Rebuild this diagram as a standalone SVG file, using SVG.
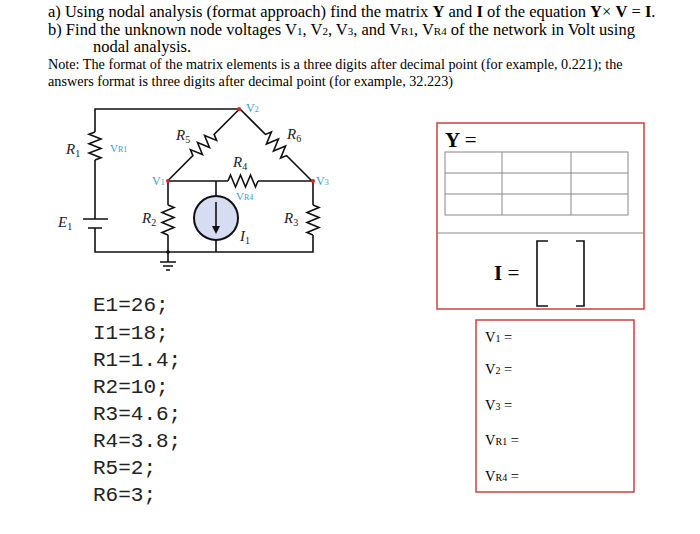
<svg xmlns="http://www.w3.org/2000/svg" width="700" height="534" viewBox="0 0 700 534">
<style>
.t{font-family:"Liberation Serif",serif;fill:#000}
.w{fill:none;stroke:#111;stroke-width:1.6}
.b{fill:#3a9bd5;font-family:"Liberation Serif",serif}
.l{font-family:"Liberation Serif",serif;font-style:italic;font-size:15px;fill:#222}
.m{font-family:"Liberation Mono",monospace;font-size:21px;fill:#222}
.g{fill:none;stroke:#888;stroke-width:1}
.r{fill:none;stroke:#d04040;stroke-width:1.5}
</style>
<rect width="700" height="534" fill="#fff"/>
<g id="text" class="t" font-size="16.5">
<text x="48" y="17">a)  Using nodal analysis (format approach) find the matrix <tspan font-weight="bold">Y</tspan> and <tspan font-weight="bold">I</tspan> of the equation <tspan font-weight="bold">Y</tspan>× <tspan font-weight="bold">V</tspan> = <tspan font-weight="bold">I</tspan>.</text>
<text x="48" y="35">b)  Find the unknown node voltages V<tspan font-size="11">1</tspan>, V<tspan font-size="11">2</tspan>, V<tspan font-size="11">3</tspan>,  and V<tspan font-size="11">R1</tspan>, V<tspan font-size="11">R4</tspan> of the network in Volt using</text>
<text x="93" y="52">nodal analysis.</text>
<text x="48" y="69" font-size="14.2">Note:  The format of the matrix elements is a three digits after decimal point (for example, 0.221); the</text>
<text x="48" y="86" font-size="14.2">answers format is three digits after decimal point (for example, 32.223)</text>
</g>
<g id="connectors">
<path class="w" d="M95 132V109H239"/>
<path class="w" d="M95 160V219M95 228V252H313V235M168 181H228M258 181H313M313 181V205M168 181V205M168 235V252M216 181V196M216 240V252M168 252V262"/>
<path class="w" d="M95 132l-6 2.3 12 4.7-12 4.7 12 4.7-12 4.7 12 4.7-6 2.3"/>
<path class="w" d="M168 205l6 2.5-12 5 12 5-12 5 12 5-12 5 6 2.5"/>
<path class="w" d="M313 205l6 2.5-12 5 12 5-12 5 12 5-12 5 6 2.5"/>
<path class="w" d="M228 181l2.5-6 5 12 5-12 5 12 5-12 5 12 2.5-6"/>
<path class="w" transform="translate(203.5 145) rotate(-45)" d="M-50.5 0H-15l2.5-6 5 12 5-12 5 12 5-12 5 12 2.5-6H50.5"/>
<path class="w" transform="translate(276 145) rotate(45)" d="M-51.6 0H-15l2.5-6 5 12 5-12 5 12 5-12 5 12 2.5-6H51.6"/>
<path class="w" d="M83 219H108M88 228H102" stroke-width="2.5"/>
<path class="w" d="M160 262H176M163 266H173M166 270H170" stroke-width="2"/>
<circle cx="216" cy="218" r="22" fill="#d6dcf2" stroke="#111" stroke-width="2"/>
<path class="w" d="M216 202V232"/><path d="M212 226L216 234L220 226Z" fill="#111"/>
<g fill="#e02020"><circle cx="239" cy="109" r="2"/><circle cx="168" cy="181" r="2"/><circle cx="313" cy="181" r="2"/></g>
<circle cx="168" cy="252" r="1.8" fill="#111"/>
</g>
<g id="labels">
<text class="b" x="246" y="112" font-size="12">V<tspan font-size="8">2</tspan></text>
<text class="b" x="152" y="185" font-size="12">V<tspan font-size="8">1</tspan></text>
<text class="b" x="316" y="185" font-size="12">V<tspan font-size="8">3</tspan></text>
<text class="b" x="110" y="152" font-size="11">V<tspan font-size="8">R1</tspan></text>
<text class="b" x="236" y="200" font-size="11">V<tspan font-size="8">R4</tspan></text>
<text class="l" x="66" y="154">R<tspan font-size="10" font-style="normal" dy="3">1</tspan></text>
<text class="l" x="176" y="140">R<tspan font-size="10" font-style="normal" dy="3">5</tspan></text>
<text class="l" x="287" y="139">R<tspan font-size="10" font-style="normal" dy="3">6</tspan></text>
<text class="l" x="233" y="167">R<tspan font-size="10" font-style="normal" dy="3">4</tspan></text>
<text class="l" x="142" y="223">R<tspan font-size="10" font-style="normal" dy="3">2</tspan></text>
<text class="l" x="284" y="223">R<tspan font-size="10" font-style="normal" dy="3">3</tspan></text>
<text class="l" x="58" y="227">E<tspan font-size="10" font-style="normal" dy="3">1</tspan></text>
<text class="l" x="240" y="241">I<tspan font-size="10" font-style="normal" dy="3">1</tspan></text>
</g>
<g id="values">
<text class="m" x="93" y="311">E1=26;</text>
<text class="m" x="93" y="339">I1=18;</text>
<text class="m" x="93" y="366">R1=1.4;</text>
<text class="m" x="93" y="393">R2=10;</text>
<text class="m" x="93" y="420">R3=4.6;</text>
<text class="m" x="93" y="447">R4=3.8;</text>
<text class="m" x="93" y="474">R5=2;</text>
<text class="m" x="93" y="501">R6=3;</text>
</g>
<g id="matrix">
<rect class="r" x="437" y="123" width="207" height="186"/>
<line x1="437" y1="233" x2="644" y2="233" stroke="#888"/>
<text class="t" x="445" y="147" font-size="21" font-weight="bold">Y <tspan font-weight="normal">=</tspan></text>
<rect class="g" x="445" y="152" width="183" height="63"/>
<path class="g" d="M445 173H628M445 194H628M502 152V215M571 152V215"/>
<text class="t" x="494" y="280" font-size="21" font-weight="bold">I <tspan font-weight="normal">=</tspan></text>
<path class="w" d="M548 241H537V306H548M576 241H584V306H576"/>
</g>
<g id="answers" class="t" font-size="14.5">
<rect class="r" x="476" y="320" width="158" height="172"/>
<text x="485" y="342">V<tspan font-size="10">1</tspan> =</text>
<text x="485" y="374">V<tspan font-size="10">2</tspan> =</text>
<text x="485" y="410">V<tspan font-size="10">3</tspan>  =</text>
<text x="485" y="445">V<tspan font-size="10">R1</tspan>   =</text>
<text x="485" y="481">V<tspan font-size="10">R4</tspan>   =</text>
</g>
</svg>
